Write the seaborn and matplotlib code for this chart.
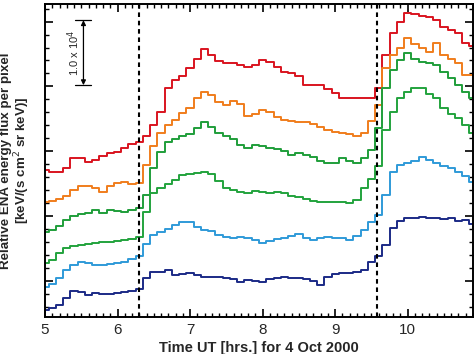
import numpy as np
import pandas as pd
import matplotlib
matplotlib.use("Agg")
import matplotlib.pyplot as plt
from matplotlib.ticker import FixedLocator, MultipleLocator, NullFormatter
import seaborn as sns

# Time grid (UT hours, 4 Oct 2000), 0.1 h samples
time_ut = np.round(np.arange(5.0, 10.95, 0.1), 1)

# Relative ENA energy flux per pixel, units of 1e3 keV/(s cm^2 sr keV), stacked channels
ch_red = [22.6, 22.3, 22.3, 22.9, 24.5, 24.5, 23.8, 24.2, 24.8, 25.2,
          25.4, 26.0, 26.6, 26.9, 27.8, 29.5, 31.5, 35.2, 36.5, 37.1,
          38.3, 39.8, 41.2, 40.3, 39.4, 39.1, 39.1, 38.8, 38.5, 38.8,
          39.5, 39.2, 38.5, 37.8, 37.5, 37.1, 35.7, 35.7, 35.7, 35.1,
          34.5, 33.8, 33.7, 33.7, 33.7, 33.8, 35.2, 40.3, 43.7, 45.4,
          46.8, 46.6, 46.3, 46.2, 45.7, 44.6, 44.2, 43.7, 42.2, 41.8]
ch_orange = [17.7, 17.8, 18.2, 18.6, 19.5, 20.2, 20.2, 19.8, 19.2, 20.2,
             20.6, 20.8, 20.5, 20.6, 23.4, 26.3, 28.3, 29.5, 30.3, 31.4,
             32.2, 33.7, 34.6, 34.2, 33.1, 32.6, 33.2, 32.8, 30.9, 31.2,
             31.8, 31.5, 30.8, 30.3, 30.2, 30.0, 30.0, 29.7, 29.2, 28.8,
             28.5, 28.3, 28.2, 27.8, 28.3, 30.2, 32.6, 38.3, 40.3, 41.5,
             42.9, 42.0, 41.4, 40.8, 42.2, 40.3, 39.8, 39.1, 37.2, 37.2]
ch_green1 = [13.1, 13.4, 14.0, 14.9, 15.5, 15.8, 16.0, 16.5, 16.0, 16.5,
             16.3, 16.2, 16.5, 16.8, 18.8, 22.9, 25.4, 26.9, 27.4, 27.8,
             28.2, 29.1, 30.0, 29.2, 28.3, 27.8, 27.4, 26.5, 26.0, 26.5,
             26.3, 26.0, 25.8, 25.5, 24.9, 25.2, 24.9, 24.6, 24.0, 23.7,
             23.7, 24.5, 24.0, 23.7, 24.5, 25.7, 29.1, 35.2, 38.0, 39.5,
             40.6, 39.8, 39.2, 39.1, 38.8, 37.7, 36.8, 35.7, 34.6, 33.8]
ch_green2 = [8.3, 8.8, 9.8, 10.6, 10.9, 11.1, 11.2, 11.4, 11.5, 11.5,
             11.7, 11.8, 12.0, 12.3, 16.2, 19.1, 19.8, 20.5, 21.1, 21.8,
             22.0, 22.2, 22.3, 22.0, 20.9, 19.8, 19.5, 19.2, 19.1, 19.4,
             19.2, 19.1, 19.2, 19.1, 18.6, 18.5, 18.2, 17.8, 17.7, 17.7,
             17.7, 17.7, 17.5, 18.0, 19.8, 21.2, 23.2, 28.8, 31.5, 33.7,
             34.6, 35.2, 35.2, 34.3, 33.7, 32.2, 31.2, 30.6, 29.5, 28.3]
ch_blue = [4.6, 5.1, 6.0, 7.2, 8.0, 8.5, 8.3, 8.0, 8.0, 8.2,
           8.3, 8.5, 8.9, 9.4, 11.2, 12.6, 13.1, 13.5, 14.2, 14.6,
           14.6, 13.8, 13.4, 13.2, 12.6, 12.3, 12.2, 12.3, 12.2, 11.8,
           11.4, 11.7, 12.0, 12.2, 12.5, 12.8, 12.2, 11.8, 12.2, 12.3,
           12.2, 12.2, 11.8, 12.5, 13.4, 14.6, 15.7, 18.8, 22.3, 23.4,
           23.7, 24.0, 24.6, 24.2, 23.7, 23.2, 22.9, 22.3, 21.7, 20.8]
ch_navy = [1.1, 1.4, 1.8, 2.9, 4.0, 3.8, 3.4, 3.7, 3.5, 3.5,
           3.7, 3.8, 4.0, 4.3, 6.0, 6.9, 6.9, 7.2, 6.5, 6.6,
           6.8, 6.5, 6.2, 6.2, 6.2, 6.0, 5.8, 5.4, 5.7, 5.5,
           5.4, 5.8, 6.0, 6.2, 6.0, 6.0, 5.8, 5.5, 4.9, 6.2,
           6.6, 6.8, 6.8, 6.9, 7.2, 8.5, 9.4, 11.1, 13.7, 14.8,
           15.2, 15.2, 15.4, 15.2, 15.2, 15.1, 15.2, 14.8, 14.9, 14.3]

channels = ["red", "orange", "green1", "green2", "blue", "navy"]
colors = ["#d9141f", "#f07d1c", "#1f9e3a", "#22a33d", "#2f9ad8", "#1b2a86"]
event_times = [6.30, 9.58]

df = pd.DataFrame({"time": time_ut, "red": ch_red, "orange": ch_orange,
                   "green1": ch_green1, "green2": ch_green2,
                   "blue": ch_blue, "navy": ch_navy})
long = df.melt(id_vars="time", var_name="channel", value_name="flux")

sns.set_style("ticks")
plt.rcParams["font.family"] = ["Liberation Sans", "DejaVu Sans"]

fig = plt.figure(figsize=(4.74, 3.54), dpi=100)
ax = fig.add_axes([45 / 474, 37 / 354, 428 / 474, 313 / 354])

sns.lineplot(data=long, x="time", y="flux", hue="channel", hue_order=channels,
             palette=colors, drawstyle="steps-mid", linewidth=1.4,
             legend=False, ax=ax)

for t in event_times:
    ax.axvline(t, color="black", linestyle=(0, (2.2, 1.8)), linewidth=1.5)

# scale bar 1.0 x 10^4
ax.annotate("", xy=(5.53, 45.7), xytext=(5.53, 35.7),
            arrowprops=dict(arrowstyle="<|-|>", color="black", lw=0.9,
                            mutation_scale=7, shrinkA=0, shrinkB=0))
ax.plot([5.42, 5.64], [45.7, 45.7], color="black", lw=0.9)
ax.plot([5.42, 5.64], [35.7, 35.7], color="black", lw=0.9)
ax.text(5.40, 40.7, r"1.0 x 10$^4$", rotation=90, ha="center", va="center",
        fontsize=8)

ax.set_xlim(5.0, 10.9)
ax.set_ylim(0, 48.2)
ax.xaxis.set_major_locator(FixedLocator([5, 6, 7, 8, 9, 10]))
ax.xaxis.set_minor_locator(MultipleLocator(0.1))
ax.yaxis.set_major_locator(FixedLocator([5.5, 15.5, 25.5, 35.5, 45.5]))
ax.yaxis.set_minor_locator(FixedLocator(np.arange(1.5, 48, 2.0)))
ax.yaxis.set_major_formatter(NullFormatter())
ax.tick_params(axis="both", which="both", direction="in", top=True, right=True,
               color="black")
ax.tick_params(axis="both", which="major", length=6, width=1.2, labelsize=11, pad=4)
ax.tick_params(axis="both", which="minor", length=3, width=1.0)
for s in ax.spines.values():
    s.set_linewidth(1.4)
    s.set_color("black")

ax.set_xlabel("Time UT [hrs.] for 4 Oct 2000", fontsize=10.5, fontweight="bold",
              labelpad=3)
ax.set_ylabel("Relative ENA energy flux per pixel\n[keV/(s cm$^2$ sr keV)]",
              fontsize=9.6, fontweight="bold", labelpad=5, linespacing=1.1)

fig.savefig("out.png", dpi=100)
